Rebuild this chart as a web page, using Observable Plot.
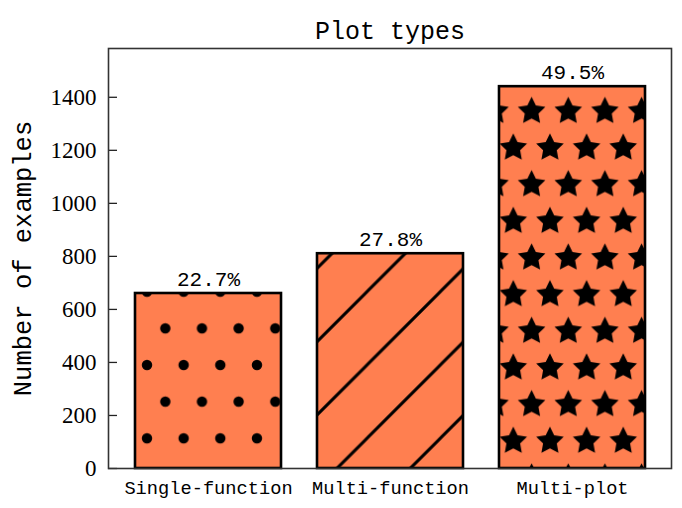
<!DOCTYPE html>
<html>
<head>
<meta charset="utf-8">
<script src="https://cdn.jsdelivr.net/npm/d3@7"></script>
<script src="https://cdn.jsdelivr.net/npm/@observablehq/plot@0.6"></script>
<style>
  html, body { margin: 0; padding: 0; background: white; }
</style>
</head>
<body>
<div id="chart"></div>
<script>
const categories = ["Single-function", "Multi-function", "Multi-plot"];
const counts = [660, 810, 1440];
const percentLabels = ["22.7%", "27.8%", "49.5%"];
const hatches = ["hatch-dots", "hatch-diag", "hatch-stars"];
const yTicks = [0, 200, 400, 600, 800, 1000, 1200, 1400];
const titleText = "Plot types";
const yLabel = "Number of examples";

const data = categories.map((c, i) => ({cat: c, value: counts[i], pct: percentLabels[i], hatch: `url(#${hatches[i]})`}));

const W = 682, H = 508;
const mono = "Liberation Mono, DejaVu Sans Mono, monospace";
const serif = "Liberation Serif, DejaVu Serif, serif";

const chart = Plot.plot({
  width: W,
  height: H,
  marginLeft: 108,
  marginRight: 11,
  marginTop: 48,
  marginBottom: 40,
  style: {fontFamily: mono, background: "white", color: "black"},
  x: {domain: categories, paddingInner: 0.2, paddingOuter: 0.14, label: null},
  y: {domain: [0, 1584], label: null},
  color: {type: "identity"},
  marks: [
    Plot.barY(data, {x: "cat", y: "value", fill: "#ff7f50"}),
    Plot.barY(data, {x: "cat", y: "value", fill: "hatch", stroke: "black", strokeWidth: 2.6}),
    Plot.text(data, {x: "cat", y: "value", text: "pct", dy: -14, fontSize: 21, fontFamily: mono, fill: "black"}),
    Plot.ruleY(yTicks, {y: d => d, insetRight: 554, stroke: "#222", strokeWidth: 1.3}),
    Plot.axisY({ticks: yTicks, tickFormat: d => String(d), tickSize: 0, tickPadding: 12, fontSize: 23, fontFamily: serif, label: null, fill: "black"}),
    Plot.axisX({tickSize: 0, tickPadding: 12, fontSize: 18.7, fontFamily: mono, label: null, fill: "black"}),
    Plot.text([yLabel], {frameAnchor: "left", textAnchor: "middle", dx: -86, rotate: -90, fontSize: 25.5, fontFamily: mono, fill: "black"}),
    Plot.text([titleText], {frameAnchor: "top", dy: -27, fontSize: 25, fontFamily: mono, fill: "black"}),
    Plot.frame({stroke: "#333", strokeWidth: 1.6})
  ]
});

// hatch pattern definitions
function starPath(cx, cy, R, r) {
  let p = "";
  for (let k = 0; k < 10; k++) {
    const a = -Math.PI / 2 + k * Math.PI / 5;
    const rad = k % 2 === 0 ? R : r;
    p += (k === 0 ? "M" : "L") + (cx + rad * Math.cos(a)).toFixed(2) + "," + (cy + rad * Math.sin(a)).toFixed(2);
  }
  return p + "Z";
}
const T = 73.3, h = T / 2;
const dotCenters = [[0, 0], [h, 0], [0, T], [h, T], [h / 2, h]];
const starCenters = dotCenters;
const ns = "http://www.w3.org/2000/svg";
const defs = document.createElementNS(ns, "defs");
defs.innerHTML = `
<pattern id="hatch-dots" patternUnits="userSpaceOnUse" x="0.4" y="-1.5" width="${h}" height="${T}">
  ${dotCenters.map(([x, y]) => `<circle cx="${x}" cy="${y}" r="5.2" fill="black"/>`).join("")}
</pattern>
<pattern id="hatch-diag" patternUnits="userSpaceOnUse" x="0" y="-1" width="${T}" height="${T}">
  <path d="M-10,10L10,-10M0,${T}L${T},0M${T - 10},${T + 10}L${T + 10},${T - 10}" stroke="black" stroke-width="3" fill="none"/>
</pattern>
<pattern id="hatch-stars" patternUnits="userSpaceOnUse" x="0.2" y="1.4" width="${h}" height="${T}">
  ${starCenters.map(([x, y]) => `<path d="${starPath(x, y, 14.5, 7.2)}" fill="black"/>`).join("")}
</pattern>`;
chart.insertBefore(defs, chart.firstChild);

document.getElementById("chart").appendChild(chart);
</script>
</body>
</html>
